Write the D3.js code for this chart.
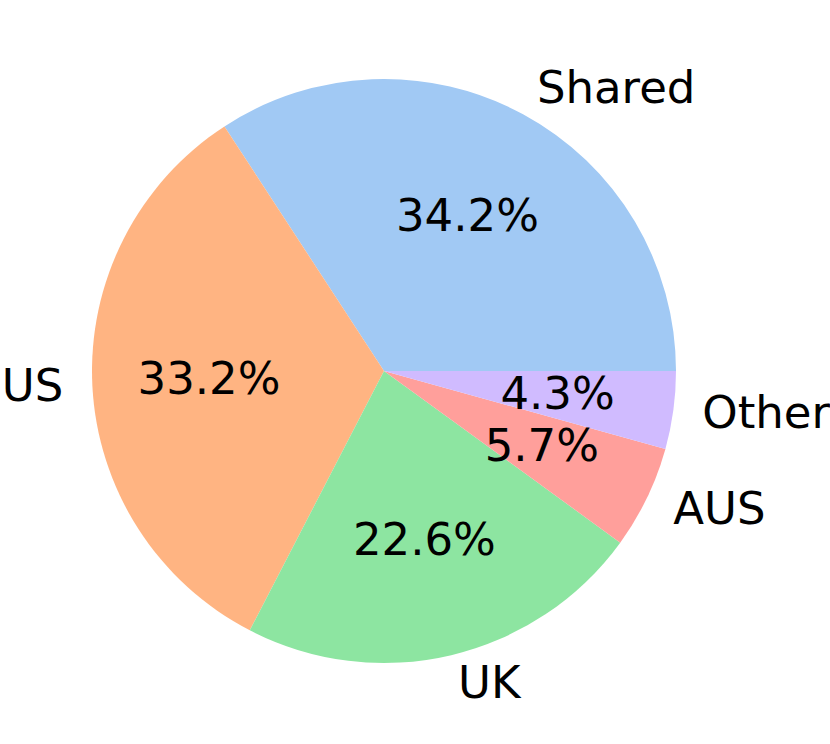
<!DOCTYPE html>
<html>
<head>
<meta charset="utf-8">
<script src="https://cdn.jsdelivr.net/npm/d3@7"></script>
<style>
  body { margin: 0; background: #fff; }
  text { font-family: "DejaVu Sans", sans-serif; font-size: 45px; fill: #000; }
</style>
</head>
<body>
<svg width="830" height="744"></svg>
<script>
var labels = ['Shared', 'US', 'UK', 'AUS', 'Other'];
var values = [34.2, 33.2, 22.6, 5.7, 4.3];
var colors = ['#a1c9f4', '#ffb482', '#8de5a1', '#ff9f9b', '#d0bbff'];

var svg = d3.select('svg');
var cx = 384, cy = 371, R = 292;

// matplotlib style: start at 3 o'clock, go counterclockwise
var pie = d3.pie().sort(null).value(function(d) { return d; })
  .startAngle(Math.PI / 2).endAngle(Math.PI / 2 - 2 * Math.PI);
var arcs = pie(values);

var arc = d3.arc().innerRadius(0).outerRadius(R);
var color = d3.scaleOrdinal().domain(labels).range(colors);

var g = svg.append('g').attr('transform', 'translate(' + cx + ',' + cy + ')');

g.selectAll('path')
  .data(arcs)
  .enter().append('path')
  .attr('d', arc)
  .attr('fill', function(d, i) { return color(labels[i]); });

function mid(d) { return (d.startAngle + d.endAngle) / 2; }

// category labels at 1.1 R
g.selectAll('text.lab')
  .data(arcs)
  .enter().append('text')
  .attr('class', 'lab')
  .attr('x', function(d) { return Math.sin(mid(d)) * R * 1.1; })
  .attr('y', function(d) { return -Math.cos(mid(d)) * R * 1.1; })
  .attr('dy', '0.31em')
  .attr('text-anchor', function(d) { return Math.sin(mid(d)) > 0 ? 'start' : 'end'; })
  .text(function(d, i) { return labels[i]; });

// percentages at 0.6 R
g.selectAll('text.pct')
  .data(arcs)
  .enter().append('text')
  .attr('class', 'pct')
  .attr('x', function(d) { return Math.sin(mid(d)) * R * 0.6; })
  .attr('y', function(d) { return -Math.cos(mid(d)) * R * 0.6; })
  .attr('dy', '0.31em')
  .attr('text-anchor', 'middle')
  .text(function(d) { return d.value.toFixed(1) + '%'; });
</script>
</body>
</html>
